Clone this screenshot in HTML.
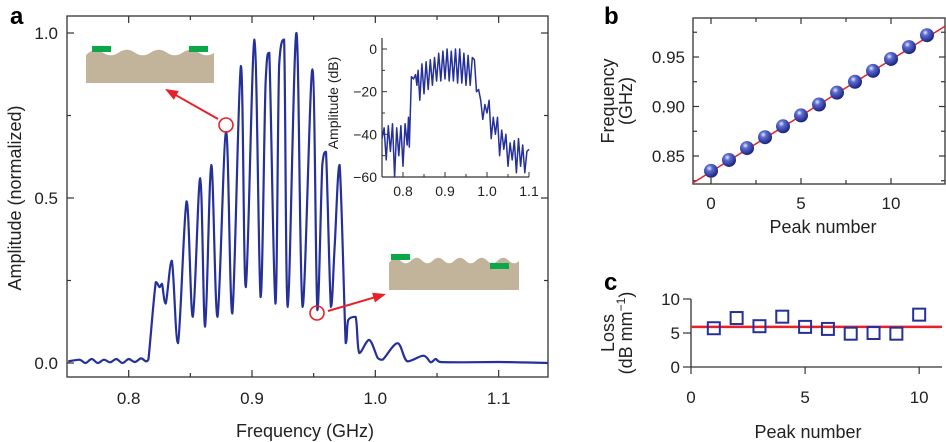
<!DOCTYPE html>
<html><head><meta charset="utf-8"><style>
html,body{margin:0;padding:0;background:#fff;}
svg{display:block;font-family:"Liberation Sans",Arial,sans-serif;}
</style></head><body>
<svg id="fig" width="946" height="442" viewBox="0 0 946 442" xmlns="http://www.w3.org/2000/svg">
<g id="pa"></g>
<g id="pins"></g>
<g id="pb"></g>
<g id="pc"></g>
</svg>
<script>
// Panel a main spectrum (freq GHz, normalized amplitude)
const specFreq=[0.751,0.76,0.765,0.77,0.775,0.78,0.785,0.79,0.795,0.80,0.805,0.81,0.814,0.816,0.822,0.825,0.827,0.830,0.835,0.840,0.847,0.852,0.858,0.862,0.867,0.872,0.879,0.884,0.891,0.895,0.902,0.907,0.911,0.914,0.919,0.922,0.926,0.929,0.936,0.941,0.949,0.953,0.957,0.960,0.964,0.967,0.971,0.976,0.978,0.984,0.987,0.995,1.002,1.006,1.018,1.026,1.039,1.045,1.049,1.053,1.07,1.1,1.14];
const specAmp=[0.005,0.01,0.0,0.012,0.0,0.01,0.002,0.012,0.0,0.012,0.003,0.014,0.005,0.01,0.245,0.23,0.24,0.18,0.31,0.06,0.49,0.14,0.56,0.11,0.60,0.14,0.70,0.15,0.90,0.23,0.98,0.20,0.85,0.94,0.18,0.90,0.98,0.17,1.0,0.17,0.89,0.16,0.60,0.64,0.17,0.35,0.60,0.06,0.13,0.14,0.03,0.07,0.015,0.01,0.06,0.005,0.022,0.002,0.012,0.003,0.002,0.003,0.0];
const aXTicks=[0.8,0.9,1.0,1.1];
const aXTickLabels=["0.8","0.9","1.0","1.1"];
const aYTicks=[0,0.5,1.0];
const aYTickLabels=["0.0","0.5","1.0"];
// Inset (dB)
const insFreq=[0.75,0.755,0.76,0.765,0.77,0.775,0.78,0.785,0.79,0.795,0.80,0.805,0.81,0.813,0.815,0.82,0.825,0.83,0.833,0.836,0.84,0.845,0.85,0.855,0.86,0.865,0.87,0.875,0.88,0.885,0.89,0.895,0.90,0.905,0.91,0.915,0.92,0.925,0.93,0.935,0.94,0.945,0.95,0.955,0.96,0.965,0.97,0.975,0.98,0.985,0.99,0.995,1.0,1.005,1.01,1.015,1.02,1.025,1.03,1.035,1.04,1.045,1.05,1.055,1.06,1.065,1.07,1.075,1.08,1.085,1.09,1.095,1.1];
const insDb=[-42,-37,-52,-36,-48,-35,-60,-37,-50,-36,-55,-35,-45,-32,-46,-13,-14,-12,-17,-10,-24,-7,-21,-6,-19,-5,-17,-4,-15,-2,-15,-1,-14,0,-15,-1,-15,0,-16,0,-16,-2,-17,-3,-17,-4,-5,-20,-19,-24,-33,-26,-30,-24,-42,-32,-40,-32,-50,-38,-47,-40,-55,-44,-52,-43,-58,-42,-55,-45,-58,-48,-47];
const insXTicks=[0.8,0.9,1.0,1.1];
const insXTickLabels=["0.8","0.9","1.0","1.1"];
const insYTicks=[0,-20,-40,-60];
const insYTickLabels=["0","−20","−40","−60"];
// Panel b
const bPeak=[0,1,2,3,4,5,6,7,8,9,10,11,12];
const bFreq=[0.835,0.846,0.858,0.869,0.880,0.891,0.902,0.914,0.925,0.936,0.948,0.960,0.972];
const bFit=[0.8342,0.0113];
const bXTicks=[0,5,10];
const bYTicks=[0.85,0.90,0.95];
const bYTickLabels=["0.85","0.90","0.95"];
// Panel c
const cPeak=[1,2,3,4,5,6,7,8,9,10];
const cLoss=[5.7,7.2,6.0,7.4,5.9,5.6,4.9,5.0,4.9,7.7];
const cFitLevel=[5.9];
const cXTicks=[0,5,10];
const cYTicks=[0,5,10];

const NS="http://www.w3.org/2000/svg";
function mk(parent,tag,attrs,text){const e=document.createElementNS(NS,tag);for(const k in attrs)e.setAttribute(k,attrs[k]);if(text!==undefined)e.textContent=text;parent.appendChild(e);return e;}
function lin(d0,d1,r0,r1){return v=>r0+(v-d0)/(d1-d0)*(r1-r0);}
function clamp(v,a,b){const lo=Math.min(a,b),hi=Math.max(a,b);return Math.max(lo,Math.min(hi,v));}
function smooth(pts){let d="M"+pts[0][0].toFixed(1)+","+pts[0][1].toFixed(1);for(let i=0;i<pts.length-1;i++){const p0=pts[i-1]||pts[i],p1=pts[i],p2=pts[i+1],p3=pts[i+2]||p2;const c1x=p1[0]+(p2[0]-p0[0])/6,c1y=clamp(p1[1]+(p2[1]-p0[1])/6,p1[1],p2[1]),c2x=p2[0]-(p3[0]-p1[0])/6,c2y=clamp(p2[1]-(p3[1]-p1[1])/6,p1[1],p2[1]);d+=" C"+c1x.toFixed(1)+","+c1y.toFixed(1)+" "+c2x.toFixed(1)+","+c2y.toFixed(1)+" "+p2[0].toFixed(1)+","+p2[1].toFixed(1);}return d;}
const BLUE="#25309a",RED="#e8202a";

// ---------- Panel a ----------
const pa=document.getElementById('pa');
const ax=lin(0.75,1.14,67,548), ay=lin(0,1,363,33);
let t;
t=mk(pa,'text',{x:10,y:24,'font-size':24,'font-weight':'bold'},'a');


let fr=mk(pa,'rect',{x:67,y:16,width:481,height:361,fill:'none',stroke:'#333','stroke-width':1.3});


[0.8,0.85,0.9,0.95,1.0,1.05,1.1].forEach(v=>{const x=ax(v),L=(Math.round(v*100)%10===0)?7:4;mk(pa,'line',{x1:x,y1:377,x2:x,y2:377-L,stroke:'#333','stroke-width':1.2});mk(pa,'line',{x1:x,y1:16,x2:x,y2:16+L,stroke:'#333','stroke-width':1.2});});
[0,0.25,0.5,0.75,1.0].forEach(v=>{const y=ay(v),L=(v*2%1===0)?7:4;mk(pa,'line',{x1:67,y1:y,x2:67+L,y2:y,stroke:'#333','stroke-width':1.2});mk(pa,'line',{x1:548,y1:y,x2:548-L,y2:y,stroke:'#333','stroke-width':1.2});});
aXTicks.forEach((v,i)=>{t=mk(pa,'text',{x:ax(v),y:404,'font-size':17,'text-anchor':'middle',fill:'#222'},aXTickLabels[i]);

});
aYTicks.forEach((v,i)=>{t=mk(pa,'text',{x:58,y:ay(v)+6,'font-size':17,'text-anchor':'end',fill:'#222'},aYTickLabels[i]);

});
t=mk(pa,'text',{x:305,y:437,'font-size':18,'text-anchor':'middle',fill:'#222'},'Frequency (GHz)');


t=mk(pa,'text',{x:0,y:0,'font-size':18,'text-anchor':'middle',fill:'#222',transform:'translate(21,198) rotate(-90)'},'Amplitude (normalized)');


let sp=mk(pa,'path',{d:smooth(specFreq.map((f,i)=>[ax(f),ay(specAmp[i])])),fill:'none',stroke:BLUE,'stroke-width':2.2,'stroke-linejoin':'round'});


// schematics
function device(g,x,y,w,h,waves,pads,name){const gg=mk(g,'g',{});
let d="M"+x+","+(y+h)+" L"+x+","+(y+6);const seg=w/waves;for(let i=0;i<waves;i++){const x0=x+i*seg;d+=" Q"+(x0+seg/4)+","+(y-2)+" "+(x0+seg/2)+","+(y+3)+" Q"+(x0+3*seg/4)+","+(y+9)+" "+(x0+seg)+","+(y+4);}d+=" L"+(x+w)+","+(y+h)+" Z";mk(gg,'path',{d:d,fill:'#c2b49a'});pads.forEach(p=>mk(gg,'rect',{x:p[0],y:p[1],width:19,height:6,fill:'#0ba84a'}));}
device(pa,86,49,128,34,4,[[92,46],[189,46]],'device-schematic-top');
device(pa,389,257,130,33,6,[[391,254],[490,263]],'device-schematic-bottom');
function arrow(g,x1,y1,x2,y2,name){const gg=mk(g,'g',{});const a=Math.atan2(y2-y1,x2-x1);mk(gg,'line',{x1:x1,y1:y1,x2:x2-9*Math.cos(a),y2:y2-9*Math.sin(a),stroke:RED,'stroke-width':2});const p=[[x2,y2],[x2-13*Math.cos(a)+5*Math.sin(a),y2-13*Math.sin(a)-5*Math.cos(a)],[x2-13*Math.cos(a)-5*Math.sin(a),y2-13*Math.sin(a)+5*Math.cos(a)]];mk(gg,'polygon',{points:p.map(q=>q.join(',')).join(' '),fill:RED});}
let c1=mk(pa,'circle',{cx:226,cy:125,r:7,fill:'none',stroke:RED,'stroke-width':1.6});


arrow(pa,218,119,165,89,'arrow-to-top-schematic');
let c2=mk(pa,'circle',{cx:317,cy:313,r:7,fill:'none',stroke:RED,'stroke-width':1.6});


arrow(pa,328,311,386,294,'arrow-to-bottom-schematic');

// ---------- Inset ----------
const pi=document.getElementById('pins');
const ix=lin(0.75,1.1,382,529), iy=lin(0,-60,49,177);
mk(pi,'rect',{x:382,y:38,width:147,height:139,fill:'#fff',stroke:'none'});
mk(pi,'line',{x1:382,y1:38,x2:382,y2:177,stroke:'#333','stroke-width':1.2});
mk(pi,'line',{x1:382,y1:177,x2:529,y2:177,stroke:'#333','stroke-width':1.2});
[0.8,0.85,0.9,0.95,1.0,1.05,1.1].forEach(v=>{const L=(Math.round(v*100)%10===0)?5:3;mk(pi,'line',{x1:ix(v),y1:177,x2:ix(v),y2:177-L,stroke:'#333'});});
[0,-10,-20,-30,-40,-50,-60].forEach(v=>{const L=(v%20===0)?5:3;mk(pi,'line',{x1:382,y1:iy(v),x2:382+L,y2:iy(v),stroke:'#333'});});
insXTicks.forEach((v,i)=>{t=mk(pi,'text',{x:ix(v),y:196,'font-size':14,'text-anchor':'middle',fill:'#222'},insXTickLabels[i]);

});
insYTicks.forEach((v,i)=>{t=mk(pi,'text',{x:377,y:iy(v)+5,'font-size':14,'text-anchor':'end',fill:'#222'},insYTickLabels[i]);

});
t=mk(pi,'text',{x:0,y:0,'font-size':14,'text-anchor':'middle',fill:'#222',transform:'translate(338,103) rotate(-90)'},'Amplitude (dB)');


let il=mk(pi,'polyline',{points:insFreq.map((f,i)=>ix(f).toFixed(1)+','+Math.min(177,iy(insDb[i])).toFixed(1)).join(' '),fill:'none',stroke:BLUE,'stroke-width':1.5,'stroke-linejoin':'round'});



// ---------- Panel b ----------
const pb=document.getElementById('pb');
const bx=lin(-1,13,693,945), by=lin(0.85,0.95,156,57);
t=mk(pb,'text',{x:604,y:24,'font-size':24,'font-weight':'bold'},'b');


const defs=mk(pb,'defs',{});const rg=mk(defs,'radialGradient',{id:'ball',cx:'0.38',cy:'0.32',r:'0.7'});
mk(rg,'stop',{offset:'0','stop-color':'#e8ecff'});mk(rg,'stop',{offset:'0.3','stop-color':'#5c6cd0'});mk(rg,'stop',{offset:'1','stop-color':'#17207a'});
fr=mk(pb,'rect',{x:693,y:18,width:252,height:166,fill:'none',stroke:'#333','stroke-width':1.3});


for(let v=0;v<=12;v+=2.5){const L=(v%5===0)?6:4;mk(pb,'line',{x1:bx(v),y1:184,x2:bx(v),y2:184-L,stroke:'#333','stroke-width':1.2});mk(pb,'line',{x1:bx(v),y1:18,x2:bx(v),y2:18+L,stroke:'#333','stroke-width':1.2});}
[0.825,0.85,0.875,0.9,0.925,0.95,0.975].forEach(v=>{const L=(Math.round(v*1000)%50===0)?6:4;mk(pb,'line',{x1:693,y1:by(v),x2:693+L,y2:by(v),stroke:'#333','stroke-width':1.2});mk(pb,'line',{x1:945,y1:by(v),x2:945-L,y2:by(v),stroke:'#333','stroke-width':1.2});});
bXTicks.forEach(v=>{t=mk(pb,'text',{x:bx(v),y:209,'font-size':17,'text-anchor':'middle',fill:'#222'},String(v));

});
bYTicks.forEach((v,i)=>{t=mk(pb,'text',{x:685,y:by(v)+6,'font-size':17,'text-anchor':'end',fill:'#222'},bYTickLabels[i]);

});
t=mk(pb,'text',{x:823,y:233,'font-size':18,'text-anchor':'middle',fill:'#222'},'Peak number');


t=mk(pb,'text',{x:0,y:0,'font-size':18,'text-anchor':'middle',fill:'#222',transform:'translate(614,101) rotate(-90)'},'Frequency');


t=mk(pb,'text',{x:0,y:0,'font-size':18,'text-anchor':'middle',fill:'#222',transform:'translate(632,101) rotate(-90)'},'(GHz)');


const cp=mk(pb,'clipPath',{id:'bclip'});mk(cp,'rect',{x:693,y:18,width:252,height:166});
let fl=mk(pb,'line',{x1:bx(-1),y1:by(bFit[0]-bFit[1]),x2:bx(13),y2:by(bFit[0]+13*bFit[1]),stroke:RED,'stroke-width':1.5,'clip-path':'url(#bclip)'});


bPeak.forEach((p,i)=>{const c=mk(pb,'circle',{cx:bx(p),cy:by(bFreq[i]),r:7,fill:'url(#ball)'});

});

// ---------- Panel c ----------
const pc=document.getElementById('pc');
const cx=lin(0,11,691,942), cy=lin(0,10,367,299);
t=mk(pc,'text',{x:604,y:290,'font-size':24,'font-weight':'bold'},'c');


let ya=mk(pc,'line',{x1:691,y1:299,x2:691,y2:367,stroke:'#333','stroke-width':1.3});


let xa=mk(pc,'line',{x1:691,y1:367,x2:942,y2:367,stroke:'#333','stroke-width':1.3});


cYTicks.forEach(v=>{mk(pc,'line',{x1:683,y1:cy(v),x2:691,y2:cy(v),stroke:'#333','stroke-width':1.2});
t=mk(pc,'text',{x:680,y:cy(v)+6,'font-size':17,'text-anchor':'end',fill:'#222'},String(v));

});
cXTicks.forEach(v=>{mk(pc,'line',{x1:cx(v),y1:367,x2:cx(v),y2:374,stroke:'#333','stroke-width':1.2});
t=mk(pc,'text',{x:cx(v),y:403,'font-size':17,'text-anchor':'middle',fill:'#222'},String(v));

});
t=mk(pc,'text',{x:808,y:438,'font-size':18,'text-anchor':'middle',fill:'#222'},'Peak number');


t=mk(pc,'text',{x:0,y:0,'font-size':18,'text-anchor':'middle',fill:'#222',transform:'translate(614,333) rotate(-90)'},'Loss');


t=mk(pc,'text',{x:0,y:0,'font-size':18,'text-anchor':'middle',fill:'#222',transform:'translate(632,333) rotate(-90)'});


t.appendChild(document.createTextNode('(dB mm'));const ts=mk(t,'tspan',{'font-size':12,dy:-7},'−1');mk(t,'tspan',{dy:7},')');
let cl=mk(pc,'line',{x1:691,y1:cy(cFitLevel[0]),x2:942,y2:cy(cFitLevel[0]),stroke:RED,'stroke-width':2.6});


cPeak.forEach((p,i)=>{const r=mk(pc,'rect',{x:cx(p)-6,y:cy(cLoss[i])-6,width:12,height:12,fill:'none',stroke:BLUE,'stroke-width':2});

});
</script>
</body></html>
